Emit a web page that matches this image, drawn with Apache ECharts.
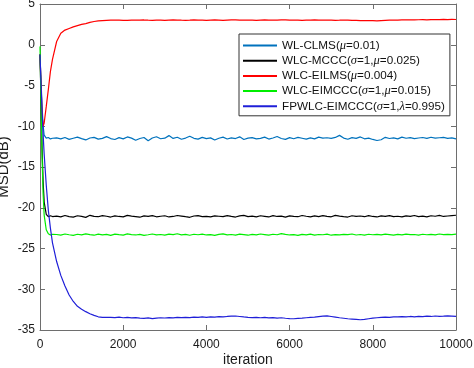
<!DOCTYPE html>
<html>
<head>
<meta charset="utf-8">
<script src="https://cdn.jsdelivr.net/npm/echarts@6/dist/echarts.min.js"></script>
<style>html,body{margin:0;padding:0;background:#fff;}#c{width:474px;height:368px;}</style>
</head>
<body>
<div id="c"></div>
<script>
// sampling grid (iterations)
const iterations = [0,25,50,75,100,150,200,250,300,
400,500,600,700,800,900,1000,1100,1200,1300,1400,1500,1600,1700,1800,1900,2000,2100,2200,2300,2400,2500,2600,2700,2800,2900,3000,
3100,3200,3300,3400,3500,3600,3700,3800,3900,4000,4100,4200,4300,4400,4500,4600,4700,4800,4900,5000,5100,5200,5300,5400,5500,5600,
5700,5800,5900,6000,6100,6200,6300,6400,6500,6600,6700,6800,6900,7000,7100,7200,7300,7400,7500,7600,7700,7800,7900,8000,8100,8200,
8300,8400,8500,8600,8700,8800,8900,9000,9100,9200,9300,9400,9500,9600,9700,9800,9900,10000];

const seriesNames = ['WL-CLMS(μ=0.01)','WLC-MCCC(σ=1,μ=0.025)','WLC-EILMS(μ=0.004)','WLC-EIMCCC(σ=1,μ=0.015)','FPWLC-EIMCCC(σ=1,λ=0.995)'];

const wlClms = [-1.2,-4.5,-7.6,-9.9,-11.1,-11.45,-11.38,-11.55,-11.47,
-11.42,-11.55,-11.38,-11.61,-11.47,-11.33,-11.52,-11.68,-11.44,-11.36,
-11.58,-11.49,-11.27,-11.51,-11.63,-11.40,-11.55,-11.31,-11.46,-11.72,
-11.50,-11.38,-11.78,-11.44,-11.29,-11.53,-11.46,-11.15,-11.49,-11.35,
-11.60,-11.45,-11.22,-11.48,-11.58,-11.37,-11.52,-11.43,-11.69,-11.47,
-11.34,-11.56,-11.42,-11.51,-11.30,-11.62,-11.46,-11.39,-11.54,-11.48,
-11.33,-11.57,-11.44,-11.26,-11.50,-11.61,-11.40,-11.53,-11.36,-11.47,
-11.58,-11.43,-11.55,-11.34,-11.45,-11.41,-11.49,-11.37,-11.12,-11.45,
-11.60,-11.39,-11.48,-11.31,-11.54,-11.46,-11.62,-11.75,-11.66,-11.36,
-11.50,-11.42,-11.55,-11.34,-11.47,-11.39,-11.52,-11.44,-11.38,-11.49,
-11.35,-11.46,-11.41,-11.37,-11.48,-11.43,-11.55];

const wlcMccc = [-1.2,-7.0,-12.8,-16.8,-19.3,-20.8,-21.1,-20.98,-21.08,
-21.02,-21.12,-20.95,-21.08,-21.15,-20.98,-21.05,-21.18,-20.93,-21.06,
-21.10,-20.97,-21.04,-21.14,-20.99,-21.07,-21.12,-20.94,-21.03,-21.09,
-21.16,-21.00,-21.06,-20.96,-21.11,-21.04,-20.98,-21.13,-21.07,-20.95,
-21.02,-21.10,-21.17,-21.01,-20.96,-21.08,-21.05,-21.12,-20.99,-21.04,
-21.09,-20.97,-21.06,-21.14,-21.00,-20.94,-21.08,-21.03,-21.11,-20.98,
-21.05,-21.13,-20.96,-21.07,-21.02,-21.15,-20.99,-21.06,-21.10,-20.95,
-21.04,-21.12,-21.00,-21.08,-20.97,-21.05,-21.11,-20.93,-21.03,-21.09,
-21.14,-20.98,-21.06,-21.01,-21.10,-20.96,-21.07,-21.13,-21.00,-21.05,
-20.97,-21.09,-21.04,-21.12,-20.99,-21.06,-20.95,-21.08,-21.02,-21.11,
-20.98,-21.04,-20.94,-21.07,-21.01,-20.96,-20.92];

const wlcEilms = [-1.2,-5.0,-8.6,-10.0,-9.6,-7.6,-5.5,-3.3,-1.8,
0.4,1.4,1.8,2.0,2.2,2.35,2.5,2.6,2.75,2.85,2.92,
2.97,3.00,3.02,3.01,3.03,3.00,2.98,3.01,3.03,3.02,
3.04,3.01,2.99,3.02,3.03,3.00,3.02,3.04,3.03,3.01,
3.00,3.02,3.05,3.03,3.01,2.99,3.02,3.04,3.02,3.00,
3.03,3.05,3.04,3.02,3.01,3.03,3.02,3.00,3.02,3.04,
3.03,3.01,3.02,3.04,3.05,3.03,3.01,3.02,3.00,3.02,
3.03,3.04,3.02,3.01,3.03,3.02,3.00,3.01,3.03,3.02,
3.00,2.98,2.96,2.95,2.97,2.96,2.94,2.97,2.99,3.01,
3.02,3.03,3.05,3.04,3.06,3.05,3.07,3.08,3.06,3.09,
3.10,3.08,3.11,3.09,3.12,3.10];

const wlcEimccc = [-0.2,-7.2,-13.8,-18.3,-20.9,-22.7,-23.2,-23.35,-23.26,
-23.28,-23.36,-23.22,-23.31,-23.38,-23.25,-23.33,-23.20,-23.30,-23.37,
-23.24,-23.32,-23.27,-23.39,-23.23,-23.30,-23.35,-23.21,-23.29,-23.34,
-23.26,-23.38,-23.31,-23.22,-23.33,-23.28,-23.36,-23.24,-23.30,-23.19,
-23.32,-23.27,-23.37,-23.25,-23.31,-23.23,-23.34,-23.29,-23.38,-23.26,
-23.21,-23.33,-23.28,-23.35,-23.24,-23.30,-23.37,-23.27,-23.32,-23.22,
-23.29,-23.36,-23.25,-23.31,-23.18,-23.27,-23.34,-23.30,-23.39,-23.26,
-23.32,-23.23,-23.35,-23.28,-23.31,-23.24,-23.37,-23.29,-23.33,-23.26,
-23.30,-23.22,-23.34,-23.28,-23.36,-23.25,-23.31,-23.27,-23.33,-23.23,
-23.29,-23.35,-23.26,-23.32,-23.24,-23.30,-23.28,-23.36,-23.25,-23.31,
-23.27,-23.33,-23.22,-23.29,-23.26,-23.30,-23.24];

const fpwlcEimccc = [-1.2,-4.8,-8.2,-11.0,-13.4,-17.2,-20.3,-22.5,-24.3,
-26.6,-28.3,-29.6,-30.7,-31.5,-32.1,-32.45,-32.75,-33.0,-33.2,-33.38,-33.45,-33.45,
-33.45,-33.48,-33.42,-33.50,-33.46,-33.52,-33.48,-33.55,-33.58,-33.52,
-33.60,-33.55,-33.50,-33.53,-33.47,-33.51,-33.45,-33.49,-33.44,-33.48,
-33.42,-33.46,-33.40,-33.44,-33.38,-33.42,-33.36,-33.40,-33.34,-33.30,
-33.28,-33.34,-33.40,-33.45,-33.48,-33.44,-33.50,-33.46,-33.52,-33.48,
-33.54,-33.50,-33.56,-33.60,-33.62,-33.58,-33.55,-33.50,-33.46,-33.42,
-33.36,-33.30,-33.26,-33.34,-33.42,-33.50,-33.56,-33.62,-33.66,-33.70,
-33.74,-33.70,-33.62,-33.55,-33.50,-33.46,-33.42,-33.45,-33.40,-33.38,
-33.36,-33.40,-33.34,-33.38,-33.32,-33.35,-33.30,-33.34,-33.28,-33.32,
-33.30,-33.26,-33.30,-33.34];

const xTicks = [0,2000,4000,6000,8000,10000];
const yTicks = [5,0,-5,-10,-15,-20,-25,-30,-35];

const allSeries = [wlClms, wlcMccc, wlcEilms, wlcEimccc, fpwlcEimccc];
const colors = ['#0072BD','#000000','#FF0000','#00EE00','#1f1fd8'];

const font = 'Liberation Sans, Arial, sans-serif';
const frame = '#6e6e6e';

const chart = echarts.init(document.getElementById('c'), null, {renderer:'canvas'});
function axisCommon(){
  return {
    axisLine:{show:true, onZero:false, lineStyle:{color:frame, width:1}},
    axisTick:{show:true, inside:true, length:5, lineStyle:{color:frame}},
    splitLine:{show:false}
  };
}
const plainFmt = function(v){ return String(v); };
chart.setOption({
  animation:false,
  backgroundColor:'#fff',
  grid:{left:40, right:18, top:4, bottom:38, containLabel:false, outerBoundsMode:'none'},
  xAxis:[
    Object.assign({type:'value', min:xTicks[0], max:xTicks[xTicks.length-1], interval:2000, position:'bottom',
      name:'iteration', nameLocation:'middle', nameGap:23, nameMoveOverlap:false,
      nameTextStyle:{fontFamily:font, fontSize:14, color:'#1a1a1a'},
      axisLabel:{fontFamily:font, fontSize:12, color:'#1a1a1a', margin:9, formatter:plainFmt, hideOverlap:false}}, axisCommon()),
    Object.assign({type:'value', min:xTicks[0], max:xTicks[xTicks.length-1], interval:2000, position:'top',
      axisLabel:{show:false}}, axisCommon())
  ],
  yAxis:[
    Object.assign({type:'value', min:-35, max:5, interval:5, position:'left',
      name:'MSD(dB)', nameLocation:'middle', nameGap:29, nameRotate:90, nameMoveOverlap:false,
      nameTextStyle:{fontFamily:font, fontSize:15, color:'#1a1a1a'},
      axisLabel:{fontFamily:font, fontSize:12, color:'#1a1a1a', margin:5, formatter:plainFmt}}, axisCommon()),
    Object.assign({type:'value', min:-35, max:5, interval:5, position:'right',
      axisLabel:{show:false}}, axisCommon())
  ],
  legend:{
    orient:'vertical', left:239, top:34,
    backgroundColor:'#fff', borderColor:'#333', borderWidth:1,
    padding:[5,5,3,4], itemGap:2.2, itemWidth:34, itemHeight:2, icon:'rect',
    data:seriesNames,
    formatter:function(n){ return n.replace(/([μσλ])/g, '{g|$1}'); },
    textStyle:{fontFamily:font, fontSize:11.7, color:'#111', lineHeight:12,
      rich:{g:{fontFamily:'Liberation Serif, serif', fontStyle:'italic', fontSize:12.5, color:'#111', lineHeight:12}}}
  },
  series: allSeries.map(function(vals, i){
    return {
      name: seriesNames[i], type:'line', xAxisIndex:0, yAxisIndex:0,
      data: iterations.map(function(x, j){ return [x, vals[j]]; }),
      showSymbol:false, symbol:'none', lineStyle:{width:1.2, color:colors[i]}, itemStyle:{color:colors[i]},
      emphasis:{disabled:true}, z: 2 + i
    };
  })
});
</script>
</body>
</html>
